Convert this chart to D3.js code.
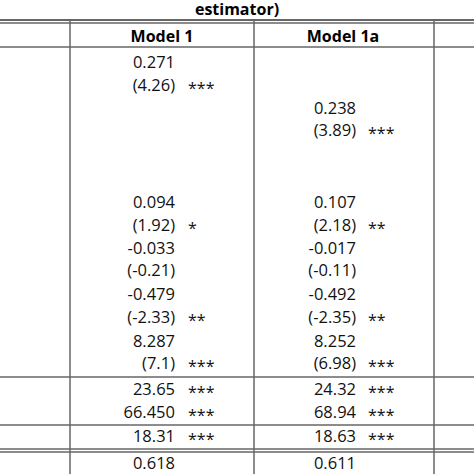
<!DOCTYPE html>
<html><head><meta charset="utf-8">
<script src="https://cdn.jsdelivr.net/npm/d3@7"></script>
<style>body{margin:0;background:#fff}</style>
</head><body><div id="chart"></div>
<script>
// table rows (Model 1 / Model 1a) with significance stars
const rowY = [62, 85, 108, 130, 202, 225, 248, 270, 294, 317, 341, 363, 389, 412, 436, 463];
const model1 = ["0.271", "(4.26)", "", "", "0.094", "(1.92)", "-0.033", "(-0.21)", "-0.479", "(-2.33)", "8.287", "(7.1)", "23.65", "66.450", "18.31", "0.618"];
const model1Stars = ["", "***", "", "", "", "*", "", "", "", "**", "", "***", "***", "***", "***", ""];
const model1a = ["", "", "0.238", "(3.89)", "0.107", "(2.18)", "-0.017", "(-0.11)", "-0.492", "(-2.35)", "8.252", "(6.98)", "24.32", "68.94", "18.63", "0.611"];
const model1aStars = ["", "", "", "***", "", "**", "", "", "", "**", "", "***", "***", "***", "***", ""];
const headers = ["Model 1", "Model 1a"];

const width = 474, height = 474;
const svg = d3.select("#chart").append("svg").attr("width", width).attr("height", height)
    .style("font-family", "'Open Sans', 'Liberation Sans', sans-serif");

const y = d3.scaleLinear().domain([0, 474]).range([0, 474]);
const stroke = "#666";

// horizontal rules
[[20, 2], [23, 1.5], [47, 1.5], [377, 1.5], [425, 1.5], [449, 1.5], [452, 1.5]].forEach(function (l) {
    svg.append("line").attr("x1", 0).attr("x2", width).attr("y1", y(l[0])).attr("y2", y(l[0]))
        .attr("stroke", stroke).attr("stroke-width", l[1]);
});
// vertical rules
[70, 254, 434].forEach(function (x) {
    svg.append("line").attr("x1", x).attr("x2", x).attr("y1", y(21)).attr("y2", height)
        .attr("stroke", stroke).attr("stroke-width", 1.5);
});

svg.append("text").attr("x", 237).attr("y", 15).attr("text-anchor", "middle")
    .style("font-weight", "bold").style("font-size", "16px").text("estimator)");

const colCenter = [162, 343];
headers.forEach(function (h, i) {
    svg.append("text").attr("x", colCenter[i]).attr("y", 42).attr("text-anchor", "middle")
        .style("font-weight", "bold").style("font-size", "16px").text(h);
});

function drawCol(vals, stars, numX, starX) {
    const g = svg.append("g").style("font-size", "16.5px").attr("fill", "#111");
    g.selectAll(".v").data(rowY).enter().append("text")
        .attr("x", numX).attr("y", function (d) { return y(d) + 6; })
        .attr("text-anchor", "end").text(function (d, i) { return vals[i]; });
    g.selectAll(".s").data(rowY).enter().append("text")
        .attr("x", starX).attr("y", function (d) { return y(d) + 9; })
        .style("font-size", "16px").text(function (d, i) { return stars[i]; });
}
drawCol(model1, model1Stars, 175, 188);
drawCol(model1a, model1aStars, 356, 368);
</script></body></html>
